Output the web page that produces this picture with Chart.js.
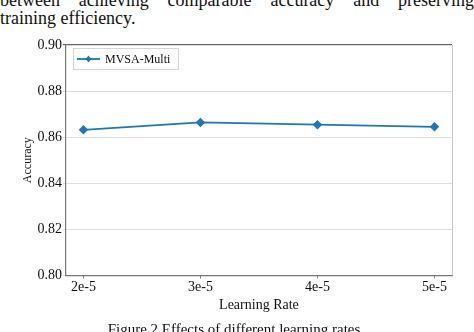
<!DOCTYPE html>
<html>
<head>
  <meta charset="utf-8" />
  <title>Learning rate</title>
  <script src="https://cdn.jsdelivr.net/npm/chart.js@4/dist/chart.umd.min.js"></script>
  <style>
    body { margin: 0; width: 474px; height: 332px; overflow: hidden; background: #fff; position: relative; font-family: "Liberation Serif", serif; color: #111; }
    .line { position: absolute; left: 0; width: 474px; font-size: 18px; line-height: 18px; white-space: nowrap; }
    #l1 { top: -9px; text-align: justify; text-align-last: justify; white-space: normal; }
    #l2 { top: 9px; }
    #caption { position: absolute; left: -3px; width: 474px; top: 321px; font-size: 15px; text-align: center; }
    #wrap { position: absolute; left: 0; top: 0; width: 474px; height: 332px; }
  </style>
</head>
<body>
  <div class="line" id="l1">between achieving comparable accuracy and preserving</div>
  <div class="line" id="l2">training efficiency.</div>
  <div id="wrap"><canvas id="lr"></canvas></div>
  <div id="caption">Figure 2 Effects of different learning rates</div>
  <script>
    var lrLabels = ["2e-5", "3e-5", "4e-5", "5e-5"];
    var lrValues = [2, 3, 4, 5];
    var accuracy = [0.8632, 0.8664, 0.8654, 0.8645];
    var seriesName = "MVSA-Multi";
    var blue = "#1f77b4";

    function diamond(c, x, y, r) {
      c.beginPath(); c.moveTo(x, y - r); c.lineTo(x + r * 0.8, y); c.lineTo(x, y + r); c.lineTo(x - r * 0.8, y); c.closePath(); c.fill();
    }

    // right frame line + legend box in the upper left of the plot
    var frame = {
      id: "frame",
      afterDraw: function(chart) {
        var a = chart.chartArea, c = chart.ctx;
        c.save();
        c.strokeStyle = "#c8c8c8"; c.lineWidth = 1;
        c.beginPath(); c.moveTo(a.right + 0.5, a.top); c.lineTo(a.right + 0.5, a.bottom); c.stroke();

        var ds = chart.data.datasets[0];
        c.font = "12px 'Liberation Serif'";
        var tw = c.measureText(ds.label).width;
        var bx = Math.round(a.left + 7), by = Math.round(a.top + 3), bw = Math.round(6 + 23 + 5 + tw + 6), bh = 21;
        c.fillStyle = "rgba(255,255,255,0.85)";
        c.fillRect(bx, by, bw, bh);
        c.strokeStyle = "#d6d6d6";
        c.strokeRect(bx + 0.5, by + 0.5, bw, bh);
        var ly = by + bh / 2 + 0.5;
        c.strokeStyle = ds.borderColor; c.lineWidth = 1.8;
        c.beginPath(); c.moveTo(bx + 4, ly); c.lineTo(bx + 27, ly); c.stroke();
        c.fillStyle = ds.borderColor;
        diamond(c, bx + 15.5, ly, 3.5);
        c.fillStyle = "#111"; c.textBaseline = "middle";
        c.fillText(ds.label, bx + 32, ly + 0.5);
        c.restore();
      }
    };

    var pts = lrValues.map(function(v, i) { return { x: v, y: accuracy[i] }; });

    new Chart(document.getElementById("lr").getContext("2d"), {
      type: "line",
      data: {
        datasets: [{
          label: seriesName,
          data: pts,
          borderColor: blue,
          backgroundColor: blue,
          borderWidth: 1.8,
          pointStyle: "rectRot",
          pointRadius: 3.5,
          pointHoverRadius: 3.5,
          tension: 0
        }]
      },
      options: {
        responsive: true,
        maintainAspectRatio: false,
        animation: false,
        layout: { padding: { left: 21, right: 22, top: 45, bottom: 18 } },
        plugins: {
          tooltip: { enabled: false },
          legend: { display: false }
        },
        scales: {
          x: {
            type: "linear",
            min: 1.85,
            max: 5.15,
            afterBuildTicks: function(s) { s.ticks = lrValues.map(function(v) { return { value: v }; }); },
            ticks: {
              color: "#111",
              font: { family: "Liberation Serif", size: 14 },
              padding: 1,
              maxRotation: 0,
              callback: function(v) { var i = lrValues.indexOf(v); return i >= 0 ? lrLabels[i] : ""; }
            },
            grid: { drawOnChartArea: false, drawTicks: true, tickLength: 3, color: "#777" },
            border: { color: "#777", width: 1.2 },
            title: { display: true, text: "Learning Rate", color: "#111", font: { family: "Liberation Serif", size: 14 }, padding: { top: 0, bottom: 0 } }
          },
          y: {
            min: 0.80,
            max: 0.90,
            ticks: {
              stepSize: 0.02,
              color: "#111",
              font: { family: "Liberation Serif", size: 14 },
              padding: 1,
              callback: function(v) { return v.toFixed(2); }
            },
            grid: {
              drawTicks: true,
              tickLength: 3,
              color: function(ctx) { return ctx.tick && Math.abs(ctx.tick.value - 0.90) < 1e-6 ? "#666" : "#dedede"; },
              lineWidth: function(ctx) { return ctx.tick && Math.abs(ctx.tick.value - 0.90) < 1e-6 ? 1.2 : 1; }
            },
            border: { color: "#777", width: 1.2 },
            title: { display: true, text: "Accuracy", color: "#111", font: { family: "Liberation Serif", size: 12 }, padding: { top: 0, bottom: 1 } }
          }
        }
      },
      plugins: [frame]
    });
  </script>
</body>
</html>
